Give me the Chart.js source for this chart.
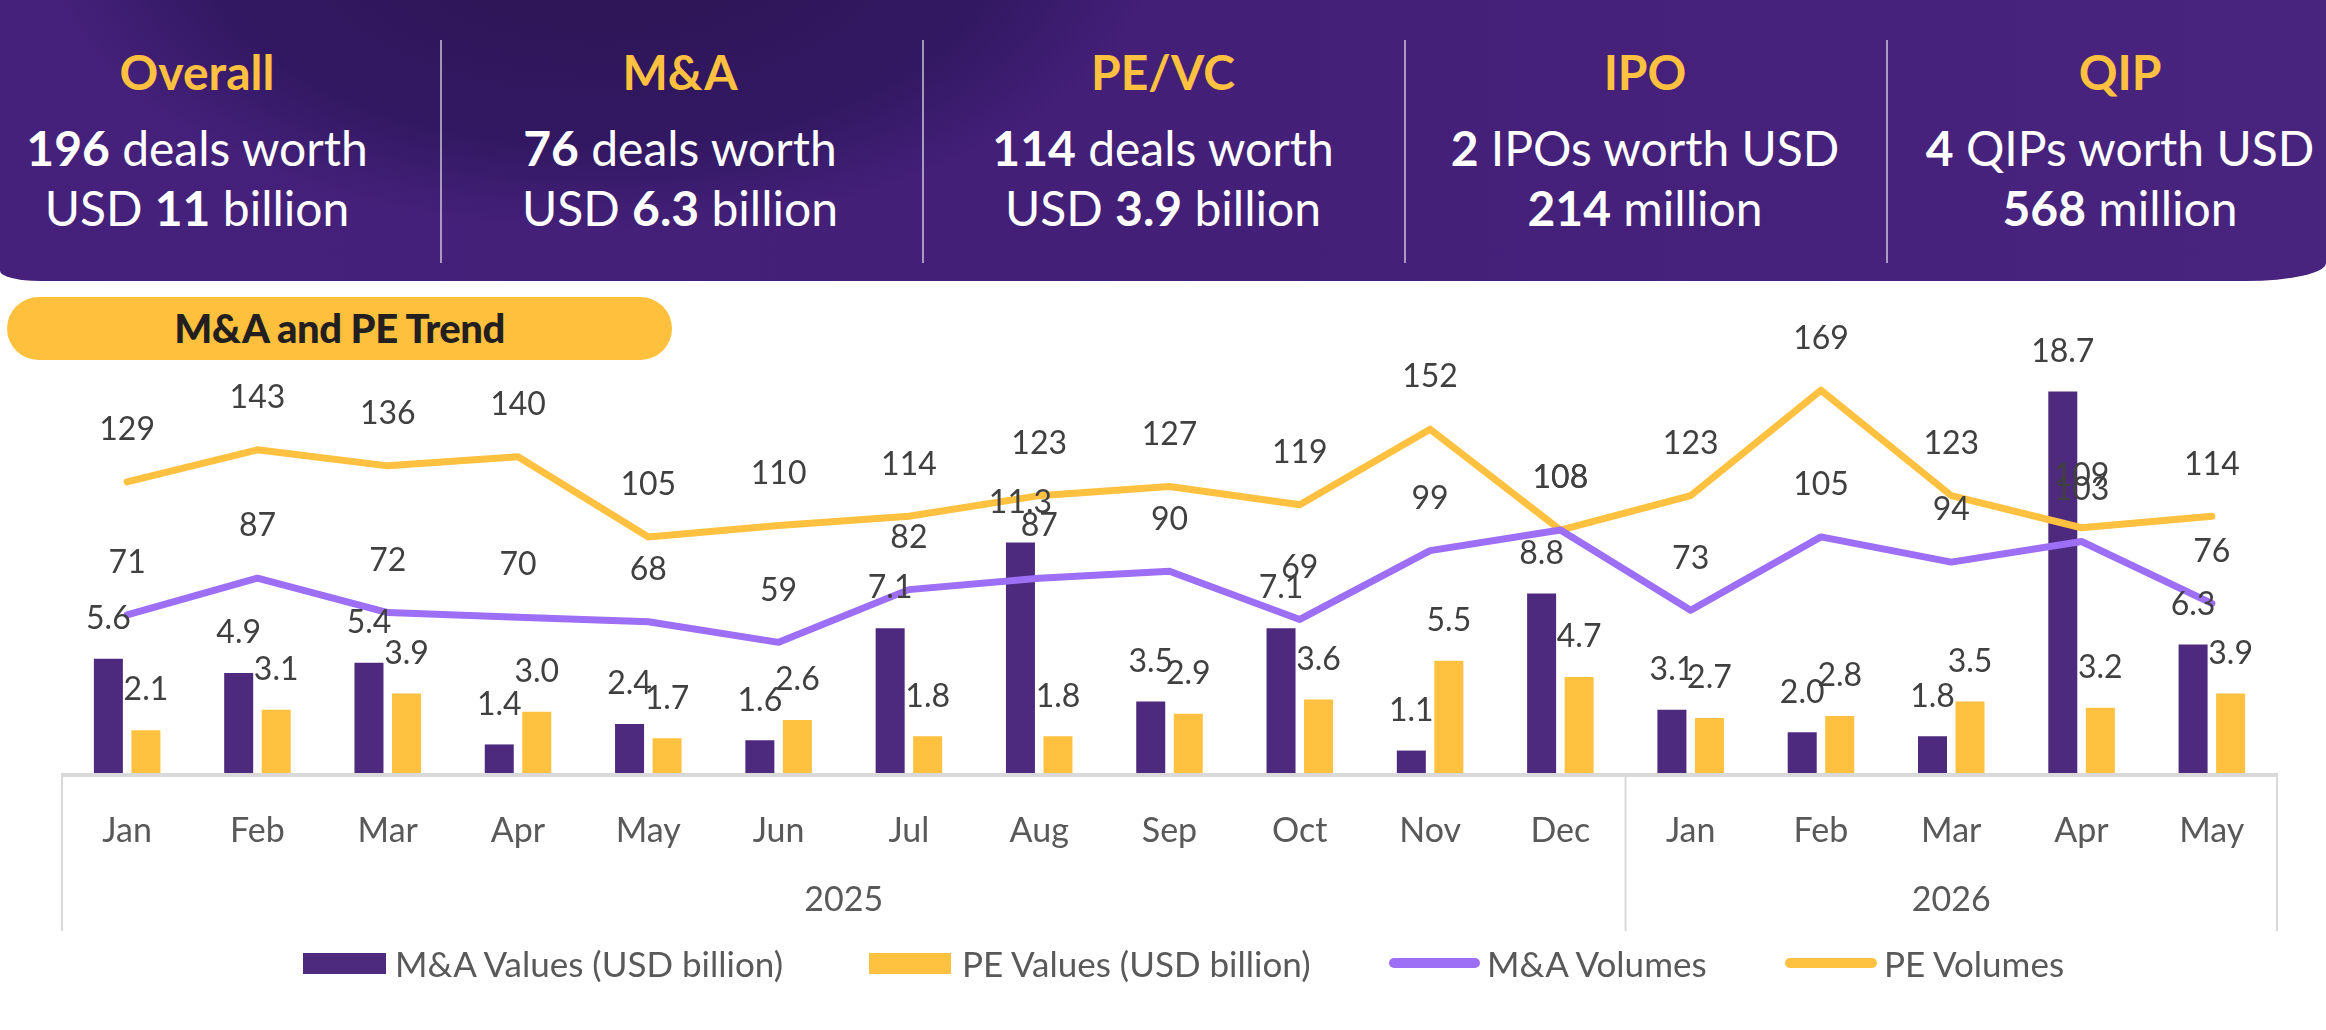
<!DOCTYPE html>
<html>
<head>
<meta charset="utf-8">
<title>M&amp;A and PE Trend</title>
<script src="https://cdn.jsdelivr.net/npm/chart.js@4.4.1/dist/chart.umd.min.js"></script>
<style>
    html, body { margin: 0; padding: 0; background: #fff; }
    body {
        width: 2326px; height: 1030px; position: relative; overflow: hidden;
        font-family: Lato, "Open Sans", sans-serif;
    }
    .header {
        position: absolute; left: 0; top: 0; width: 2326px; height: 281px;
        background:
            radial-gradient(ellipse 560px 300px at 600px -70px, #2d1553 0%, #321862 72%, rgba(60,30,110,0) 100%),
            linear-gradient(90deg, #45217b 0%, #431f78 50%, #48247f 100%);
        border-bottom-right-radius: 80px 18px;
        border-bottom-left-radius: 40px 10px;
    }
    .divider {
        position: absolute; top: 40px; width: 2px; height: 223px;
        background: rgba(255,255,255,0.55);
    }
    .col { position: absolute; top: 0; width: 480px; margin-left: -240px; text-align: center; color: #fff; font-size: 48px; }
    .col div { position: absolute; left: 0; width: 480px; height: 60px; line-height: 60px; white-space: nowrap; }
    .col .t { top: 42px; color: #ffc13f; font-weight: 700; }
    .col .l1 { top: 118px; }
    .col .l2 { top: 178px; }
    .col b { font-weight: 700; }
    .pill {
        position: absolute; left: 7px; top: 297px; width: 665px; height: 63px;
        border-radius: 32px; background: #ffc13d;
        text-align: center; line-height: 63px;
        font-size: 40px; font-weight: 900; color: #231f20;
        letter-spacing: -0.5px;
    }
    #chartBox { position: absolute; left: 0; top: 280px; width: 2326px; height: 680px; }
    .lg-swatch { position: absolute; }
    .lg-text { position: absolute; top: 943px; height: 40px; line-height: 40px; font-size: 35px; color: #595959; white-space: nowrap; }
</style>
</head>
<body>

<div class="header">
    <div class="divider" style="left:440px"></div>
    <div class="divider" style="left:922px"></div>
    <div class="divider" style="left:1404px"></div>
    <div class="divider" style="left:1886px"></div>

    <div class="col" style="left:197px">
        <div class="t">Overall</div>
        <div class="l1"><b>196</b> deals worth</div>
        <div class="l2">USD <b>11</b> billion</div>
    </div>
    <div class="col" style="left:680px">
        <div class="t">M&amp;A</div>
        <div class="l1"><b>76</b> deals worth</div>
        <div class="l2">USD <b>6.3</b> billion</div>
    </div>
    <div class="col" style="left:1163px">
        <div class="t">PE/VC</div>
        <div class="l1"><b>114</b> deals worth</div>
        <div class="l2">USD <b>3.9</b> billion</div>
    </div>
    <div class="col" style="left:1645px">
        <div class="t">IPO</div>
        <div class="l1"><b>2</b> IPOs worth USD</div>
        <div class="l2"><b>214</b> million</div>
    </div>
    <div class="col" style="left:2120px">
        <div class="t">QIP</div>
        <div class="l1"><b>4</b> QIPs worth USD</div>
        <div class="l2"><b>568</b> million</div>
    </div>
</div>

<div class="pill">M&amp;A and PE Trend</div>

<canvas id="chartBox" width="2326" height="680"></canvas>

<!-- legend -->
<div class="lg-swatch" style="left:303px;top:953px;width:83px;height:21px;background:#4e2a7e"></div>
<div class="lg-text" style="left:395px">M&amp;A Values (USD billion)</div>
<div class="lg-swatch" style="left:869px;top:953px;width:82px;height:21px;background:#ffc13f"></div>
<div class="lg-text" style="left:962px">PE Values (USD billion)</div>
<div class="lg-swatch" style="left:1389px;top:958px;width:91px;height:10px;border-radius:5px;background:#9d6ef6"></div>
<div class="lg-text" style="left:1487px">M&amp;A Volumes</div>
<div class="lg-swatch" style="left:1785px;top:958px;width:92px;height:10px;border-radius:5px;background:#ffc13f"></div>
<div class="lg-text" style="left:1884px">PE Volumes</div>

<script>
// ---- data ----
const months = ['Jan', 'Feb', 'Mar', 'Apr', 'May', 'Jun', 'Jul', 'Aug', 'Sep', 'Oct', 'Nov', 'Dec',
                'Jan', 'Feb', 'Mar', 'Apr', 'May'];
const years = ['2025', '2026'];
const monthsPerYear = [12, 5];

const maValues = [5.6, 4.9, 5.4, 1.4, 2.4, 1.6, 7.1, 11.3, 3.5, 7.1, 1.1, 8.8, 3.1, 2.0, 1.8, 18.7, 6.3];
const peValues = [2.1, 3.1, 3.9, 3.0, 1.7, 2.6, 1.8, 1.8, 2.9, 3.6, 5.5, 4.7, 2.7, 2.8, 3.5, 3.2, 3.9];
const maVolumes = [71, 87, 72, 70, 68, 59, 82, 87, 90, 69, 99, 108, 73, 105, 94, 103, 76];
const peVolumes = [129, 143, 136, 140, 105, 110, 114, 123, 127, 119, 152, 108, 123, 169, 123, 109, 114];

const PURPLE = '#4e2a7e';
const YELLOW = '#ffc13f';
const LAVENDER = '#9d6ef6';

// value labels above bars / points
const valueLabels = {
    id: 'valueLabels',
    afterDatasetsDraw(chart) {
        const ctx = chart.ctx;
        ctx.save();
        ctx.font = '32px Lato, "Open Sans", sans-serif';
        ctx.fillStyle = '#404040';
        ctx.textAlign = 'center';
        ctx.textBaseline = 'middle';
        chart.data.datasets.forEach((ds, i) => {
            const meta = chart.getDatasetMeta(i);
            const isLine = ds.type === 'line';
            meta.data.forEach((el, j) => {
                const v = ds.data[j];
                const txt = isLine ? String(v) : v.toFixed(1);
                ctx.fillText(txt, el.x, el.y - (isLine ? 52 : 40));
            });
        });
        ctx.restore();
    }
};

// x axis with month row, year row and group boxes
const groupedAxis = {
    id: 'groupedAxis',
    afterDraw(chart) {
        const ctx = chart.ctx;
        const area = chart.chartArea;
        const x = chart.scales.x;
        const step = (area.right - area.left) / months.length;
        const bottom = area.bottom;

        ctx.save();
        ctx.strokeStyle = '#d9d9d9';
        ctx.lineWidth = 4;
        ctx.beginPath();
        ctx.moveTo(area.left, bottom + 2);
        ctx.lineTo(area.right, bottom + 2);
        ctx.stroke();

        // vertical separators
        ctx.lineWidth = 2;
        let idx = 0;
        const edges = [area.left];
        monthsPerYear.forEach(n => { idx += n; edges.push(area.left + idx * step); });
        edges.forEach(ex => {
            ctx.beginPath();
            ctx.moveTo(ex, bottom);
            ctx.lineTo(ex, bottom + 158);
            ctx.stroke();
        });

        ctx.fillStyle = '#595959';
        ctx.textAlign = 'center';
        ctx.textBaseline = 'middle';
        ctx.font = '34px Lato, "Open Sans", sans-serif';
        months.forEach((m, i) => {
            ctx.fillText(m, x.getPixelForValue(i), bottom + 58);
        });
        years.forEach((y, i) => {
            ctx.fillText(y, (edges[i] + edges[i + 1]) / 2, bottom + 127);
        });
        ctx.restore();
    }
};

new Chart(document.getElementById('chartBox'), {
    type: 'bar',
    data: {
        labels: months,
        datasets: [
            {
                label: 'M&A Values (USD billion)',
                data: maValues,
                backgroundColor: PURPLE,
                yAxisID: 'y',
                order: 1,
                categoryPercentage: 0.576,
                barPercentage: 0.773
            },
            {
                label: 'PE Values (USD billion)',
                data: peValues,
                backgroundColor: YELLOW,
                yAxisID: 'y',
                order: 1,
                categoryPercentage: 0.576,
                barPercentage: 0.773
            },
            {
                label: 'M&A Volumes',
                type: 'line',
                data: maVolumes,
                borderColor: LAVENDER,
                borderWidth: 7,
                pointRadius: 0,
                borderJoinStyle: 'round',
                borderCapStyle: 'round',
                yAxisID: 'y1',
                order: 0
            },
            {
                label: 'PE Volumes',
                type: 'line',
                data: peVolumes,
                borderColor: YELLOW,
                borderWidth: 7,
                pointRadius: 0,
                borderJoinStyle: 'round',
                borderCapStyle: 'round',
                yAxisID: 'y1',
                order: 0
            }
        ]
    },
    options: {
        responsive: false,
        animation: false,
        layout: { padding: { left: 62, right: 49, top: 85, bottom: 187 } },
        plugins: {
            legend: { display: false },
            tooltip: { enabled: false }
        },
        scales: {
            x: { display: false, grid: { display: false } },
            y: { display: false, min: 0, max: 20 },
            y1: { display: false, min: 2, max: 180 }
        }
    },
    plugins: [valueLabels, groupedAxis]
});
</script>
</body>
</html>
